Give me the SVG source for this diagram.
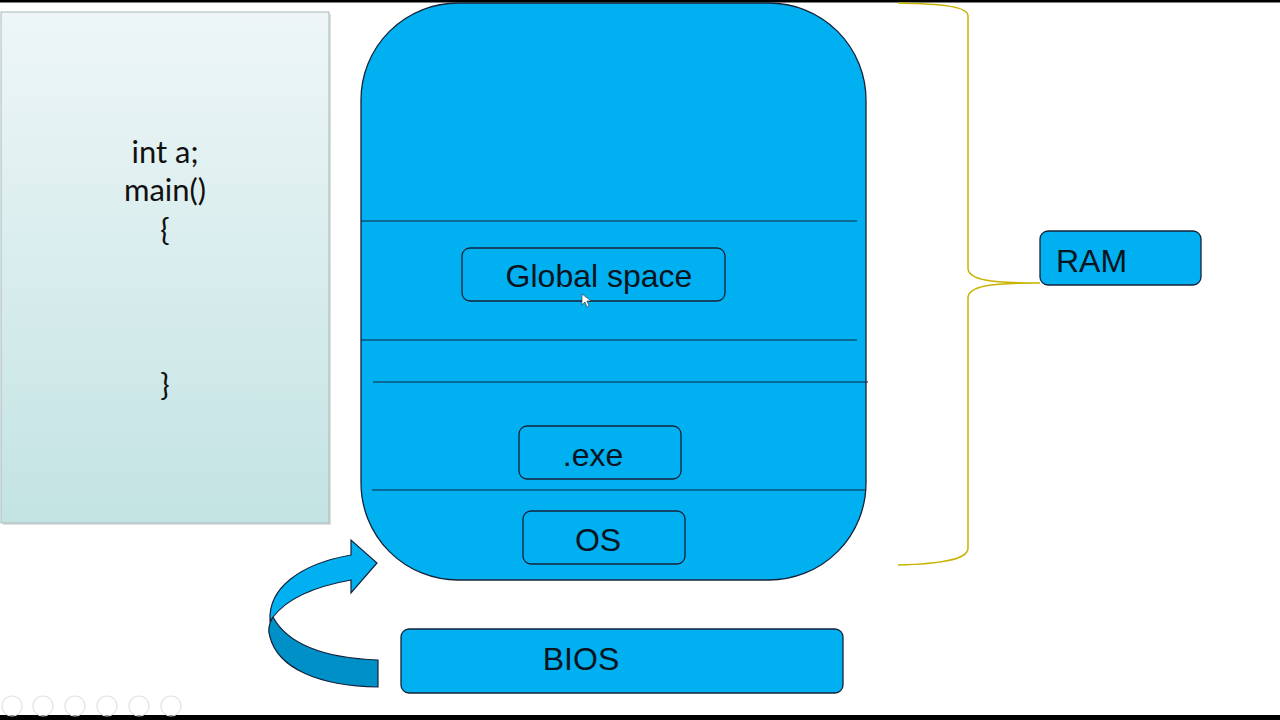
<svg xmlns="http://www.w3.org/2000/svg" width="1280" height="720" viewBox="0 0 1280 720">
<defs>
<linearGradient id="panelGrad" x1="0" y1="0" x2="0" y2="1">
<stop offset="0" stop-color="#EEF6F7"/>
<stop offset="1" stop-color="#C3E3E3"/>
</linearGradient>
<style>
.blue{fill:#00B0F0;stroke:#14233A;stroke-width:1.3}
.sep{stroke:#14233A;stroke-width:1.2;fill:none}
.lbl{font-family:"Liberation Sans",Arial,sans-serif;font-size:32px;fill:#0A1420}
.code{font-family:Lato,"Open Sans",sans-serif;font-size:31px;fill:#111;text-anchor:middle}
.brace{fill:none;stroke:#C8B400;stroke-width:1.5}
.ctl{fill:none;stroke:#E2E2E2;stroke-width:1.2}
</style>
</defs>
<rect width="1280" height="720" fill="#FFFFFF"/>
<rect x="0" y="0" width="1280" height="2.5" fill="#000"/>
<rect x="0" y="715" width="1280" height="5" fill="#000"/>

<g id="code-panel">
<rect x="3" y="14" width="328" height="511" fill="#C8CCCC" opacity="0.6"/>
<rect x="1" y="12" width="328" height="511" fill="url(#panelGrad)" stroke="#A8B8B8" stroke-width="1"/>
<text class="code" x="165" y="163">int a;</text>
<text class="code" x="165" y="201">main()</text>
<text class="code" x="165" y="241">{</text>
<text class="code" x="165" y="396">}</text>
</g>

<g id="ram-block">
<rect class="blue" x="361" y="3" width="505" height="577" rx="97" ry="97"/>
<line class="sep" x1="361" y1="221" x2="857" y2="221"/>
<line class="sep" x1="361" y1="340" x2="857" y2="340"/>
<line class="sep" x1="373" y1="382" x2="868" y2="382"/>
<line class="sep" x1="372" y1="490" x2="866" y2="490"/>
</g>

<g id="global-space">
<rect class="blue" x="462" y="248" width="263" height="53" rx="8"/>
<text class="lbl" x="599" y="287" text-anchor="middle">Global space</text>
</g>

<g id="exe">
<rect class="blue" x="519" y="426" width="162" height="53" rx="8"/>
<text class="lbl" x="593" y="466" text-anchor="middle">.exe</text>
</g>

<g id="os">
<rect class="blue" x="523" y="511" width="162" height="53" rx="8"/>
<text class="lbl" x="598" y="551" text-anchor="middle">OS</text>
</g>

<g id="bios">
<rect class="blue" x="401" y="629" width="442" height="64" rx="8"/>
<text class="lbl" x="581" y="670" text-anchor="middle">BIOS</text>
</g>

<g id="ram">
<rect class="blue" x="1040" y="231" width="161" height="54" rx="8"/>
<text class="lbl" x="1056" y="272">RAM</text>
</g>

<g id="connectors">
<path class="brace" d="M898,3 C940,4 968,6 968,16 L968,268 C968,280 990,283 1040,283 C990,283 968,286 968,298 L968,548 C968,560 940,564 898,565"/>
<path d="M273,617 C268,625 268,632 270,637 C278,668 318,686 378,687 L378,660 C325,658 288,645 273,617 Z" fill="#0090C8" stroke="#14233A" stroke-width="1.2"/>
<path d="M270,621 C268,588 300,564 351,555 L351,540 L377,563 L351,593 L351,580 C312,587 286,600 273,617 Z" fill="#00B0F0" stroke="#14233A" stroke-width="1.2"/>
</g>

<g id="cursor">
<path d="M582,294 L582,305 L585,302 L587,307 L589,306 L587,301 L591,301 Z" fill="#FFFFFF" stroke="#333" stroke-width="0.6"/>
</g>

<g id="slide-controls">
<circle class="ctl" cx="12" cy="706" r="10"/>
<circle class="ctl" cx="43" cy="706" r="10"/>
<circle class="ctl" cx="75" cy="706" r="10"/>
<circle class="ctl" cx="107" cy="706" r="10"/>
<circle class="ctl" cx="139" cy="706" r="10"/>
<circle class="ctl" cx="171" cy="706" r="10"/>
</g>
</svg>
